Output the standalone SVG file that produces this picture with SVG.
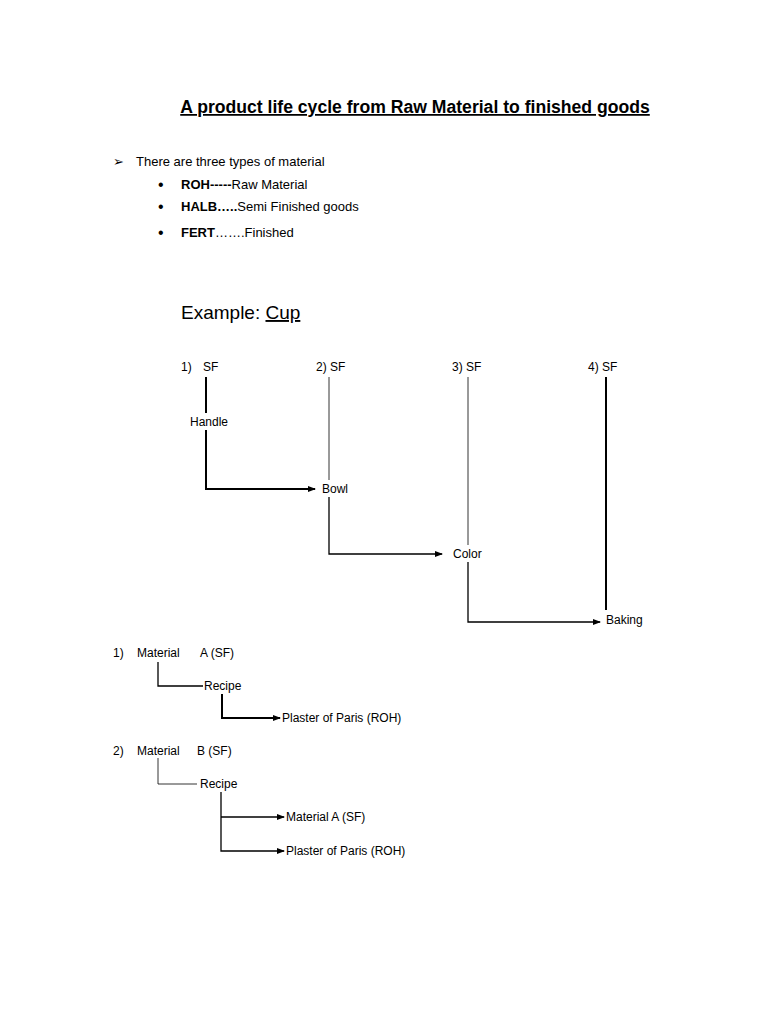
<svg xmlns="http://www.w3.org/2000/svg" width="768" height="1024" viewBox="0 0 768 1024">
<style>
text{font-family:"Liberation Sans",Arial,sans-serif;font-size:12px;fill:#000}
.t{font-size:17.6px;font-weight:bold;text-decoration:underline}
.b{font-weight:bold}
.m{font-size:13px}
.d{font-size:16px}
.e{font-size:19px}
.l{stroke:#000;stroke-width:1.3;fill:none}
.k{stroke:#000;stroke-width:2;fill:none}
.th{stroke:#000;stroke-width:0.8;fill:none}
</style>
<defs><marker id="a" markerWidth="8" markerHeight="8" refX="7" refY="4" orient="auto" markerUnits="userSpaceOnUse"><path d="M0,1 L8,4 L0,7Z" fill="#000"/></marker></defs>
<rect width="768" height="1024" fill="#fff"/>
<text class="t" x="415" y="113" text-anchor="middle">A product life cycle from Raw Material to finished goods</text>
<g id="bullets">
<text class="m" x="113" y="166">➢</text>
<text class="m" x="136" y="166">There are three types of material</text>
<text class="d" x="158" y="190">•</text><text class="m" x="181" y="189"><tspan class="b">ROH-----</tspan>Raw Material</text>
<text class="d" x="158" y="212">•</text><text class="m" x="181" y="211"><tspan class="b">HALB…..</tspan>Semi Finished goods</text>
<text class="d" x="158" y="238">•</text><text class="m" x="181" y="237"><tspan class="b">FERT</tspan>…….Finished</text>
</g>
<text class="e" x="181" y="319">Example: <tspan text-decoration="underline">Cup</tspan></text>
<g id="n1"><text x="181" y="371">1)</text><text x="203" y="371">SF</text></g>
<g id="n2"><text x="316" y="371">2) SF</text></g>
<g id="n3"><text x="452" y="371">3) SF</text></g>
<g id="n4"><text x="588" y="371">4) SF</text></g>
<g id="handle"><text x="190" y="426">Handle</text></g>
<g id="bowl"><text x="322" y="493">Bowl</text></g>
<g id="color"><text x="453" y="558">Color</text></g>
<g id="baking"><text x="606" y="624">Baking</text></g>
<g id="m1"><text x="113" y="657">1)</text><text x="137" y="657">Material</text><text x="200" y="657">A (SF)</text></g>
<g id="r1"><text x="204" y="690">Recipe</text></g>
<g id="p1"><text x="282" y="722">Plaster of Paris (ROH)</text></g>
<g id="m2"><text x="113" y="755">2)</text><text x="137" y="755">Material</text><text x="197" y="755">B (SF)</text></g>
<g id="r2"><text x="200" y="788">Recipe</text></g>
<g id="ma"><text x="286" y="821">Material A (SF)</text></g>
<g id="p2"><text x="286" y="855">Plaster of Paris (ROH)</text></g>
<g id="connectors">
<path class="k" d="M206,377V413M206,430V489H315" marker-end="url(#a)"/>
<path class="th" d="M329,377V480"/>
<path class="l" d="M329,497V554H442" marker-end="url(#a)"/>
<path class="th" d="M468,377V545"/>
<path class="l" d="M468,562V622H600" marker-end="url(#a)"/>
<path class="k" d="M606,377V610"/>
<path class="l" d="M158,662V686H203"/>
<path class="k" d="M222,694V718H280" marker-end="url(#a)"/>
<path class="th" d="M158,758V784H197"/>
<path class="l" d="M221,792V851H284" marker-end="url(#a)"/>
<path class="l" d="M221,817H284" marker-end="url(#a)"/>
</g>
</svg>
